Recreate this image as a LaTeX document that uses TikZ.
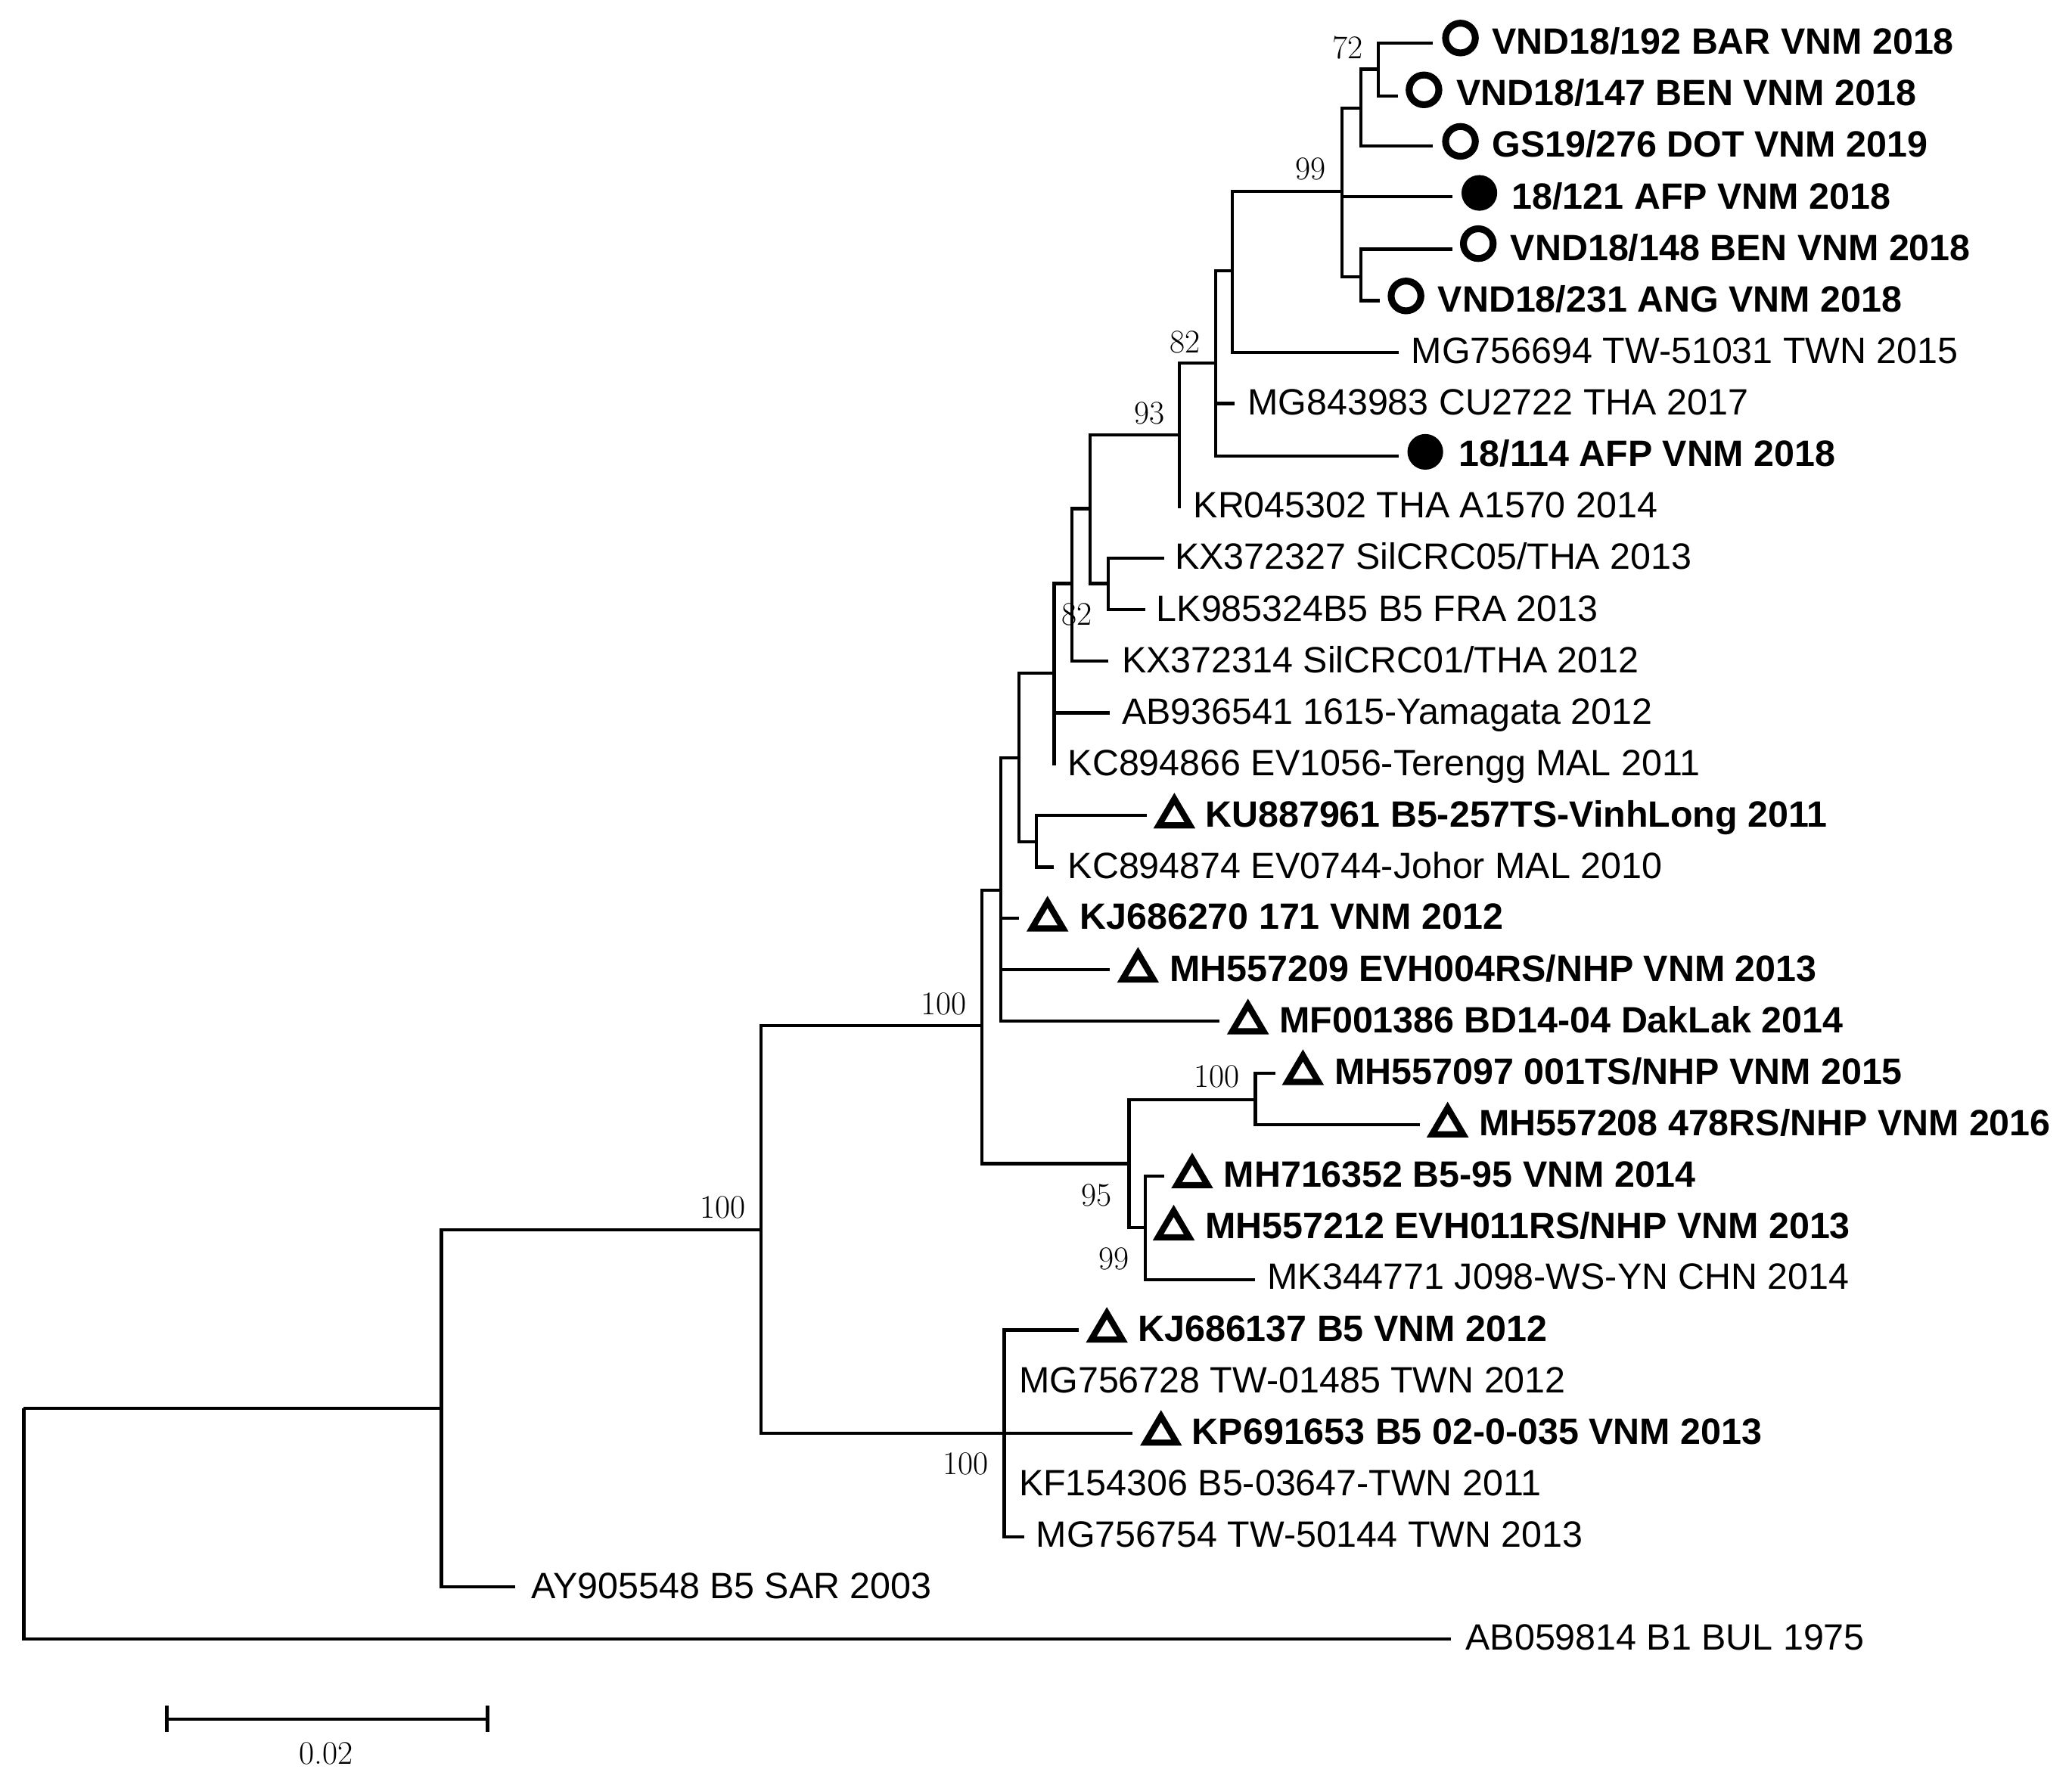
\documentclass[tikz,border=0pt]{standalone}
\usepackage{fontspec}
\usetikzlibrary{shapes.geometric}
\newfontfamily\lblfont{Liberation Sans}
\tikzset{
  x=1pt,y=-1pt,
  branch/.style={draw=black,line width=2.4pt,line join=miter},
  scalebar/.style={draw=black,line width=2.3pt},
  scaletick/.style={draw=black,line width=2.9pt},
  plain/.style={anchor=base west,inner sep=0pt,font=\lblfont\fontsize{27.7}{34}\selectfont},
  strong/.style={plain,font=\lblfont\bfseries\fontsize{27.7}{34}\selectfont},
  support/.style={inner sep=0pt,font=\fontsize{25}{30}\selectfont},
  ring/.style={circle,draw=black,fill=white,line width=5.2pt,inner sep=0pt,minimum size=22.5pt,outer sep=0pt},
  dot/.style={circle,fill=black,inner sep=0pt,minimum size=27pt,outer sep=0pt},
  tri/.style={isosceles triangle,isosceles triangle apex angle=61,shape border rotate=90,draw=black,fill=white,line width=4.7pt,line join=miter,inner sep=0pt,outer sep=0pt,minimum height=20pt,anchor=lower side}
}
\begin{document}
\begin{tikzpicture}
\useasboundingbox (0,0) rectangle (1568,1353);
\fill[white] (0,0) rectangle (1568,1353);
% internal vertices of the tree
\coordinate (root) at (18,1066);
\coordinate (A) at (334,1066);
\coordinate (B) at (576,930.6);
\coordinate (C) at (743.2,776.4);
\coordinate (D) at (760,1084.7);
\coordinate (E) at (757.2,673.7);
\coordinate (F) at (854.4,880.7);
\coordinate (G) at (771.3,573.7);
\coordinate (H) at (797.7,509.3);
\coordinate (I) at (784.2,637);
\coordinate (J) at (811.2,441.6);
\coordinate (K) at (824.7,385);
\coordinate (L) at (892.6,329);
\coordinate (M) at (838.7,441.6);
\coordinate (N) at (919.8,274.8);
\coordinate (O) at (932.4,205);
\coordinate (P) at (1015.7,145);
\coordinate (Q) at (1030,81.8);
\coordinate (R) at (1030,209.6);
\coordinate (S) at (1043,52.4);
\coordinate (T) at (950,832.2);
\coordinate (U) at (866.8,929.3);
% branch ends
\coordinate (e0) at (1084,32.5);
\coordinate (e1) at (1058,72.8);
\coordinate (e2) at (1084,110.4);
\coordinate (e3) at (1099.4,149);
\coordinate (e4) at (1099,188.6);
\coordinate (e5) at (1044,227.5);
\coordinate (e6) at (1058.7,266.6);
\coordinate (e7) at (934,305.4);
\coordinate (e8) at (1058.7,345);
\coordinate (e9) at (892.6,384.7);
\coordinate (e10) at (880.9,422.4);
\coordinate (e11) at (866.8,461.3);
\coordinate (e12) at (838.7,500.4);
\coordinate (e13) at (839.8,539.5);
\coordinate (e14) at (797.7,579.6);
\coordinate (e15) at (868,617.2);
\coordinate (e16) at (797.7,656.3);
\coordinate (e17) at (771.3,695.1);
\coordinate (e18) at (840,734);
\coordinate (e19) at (923,773);
\coordinate (e20) at (965,812.2);
\coordinate (e21) at (1074.7,851.3);
\coordinate (e22) at (881,890.2);
\coordinate (e24) at (950,968.4);
\coordinate (e25) at (816.2,1006.7);
\coordinate (e27) at (856.7,1084.7);
\coordinate (e29) at (775.2,1163.2);
\coordinate (e30) at (390,1201);
\coordinate (e31) at (1098,1240.5);
% branches
\draw[branch] (root) |- (A);
\draw[branch] (root) |- (e31);
\draw[branch] (A) |- (B);
\draw[branch] (A) |- (e30);
\draw[branch] (B) |- (C);
\draw[branch] (B) |- (D);
\draw[branch] (D) |- (e25);
\draw[branch] (D) -- (e27);
\draw[branch] (D) |- (e29);
\draw[branch] (C) |- (E);
\draw[branch] (C) |- (F);
\draw[branch] (E) |- (G);
\draw[branch] (E) |- (e17);
\draw[branch] (E) |- (e18);
\draw[branch] (E) |- (e19);
\draw[branch] (G) |- (H);
\draw[branch] (G) |- (I);
\draw[branch] (I) |- (e15);
\draw[branch] (I) |- (e16);
\draw[branch] (H) |- (J);
\draw[branch] (H) |- (e13);
\draw[branch] (H) |- (e14);
\draw[branch] (J) |- (K);
\draw[branch] (J) |- (e12);
\draw[branch] (K) |- (L);
\draw[branch] (K) |- (M);
\draw[branch] (M) |- (e10);
\draw[branch] (M) |- (e11);
\draw[branch] (L) |- (N);
\draw[branch] (L) |- (e9);
\draw[branch] (N) |- (O);
\draw[branch] (N) |- (e7);
\draw[branch] (N) |- (e8);
\draw[branch] (O) |- (P);
\draw[branch] (O) |- (e6);
\draw[branch] (P) |- (Q);
\draw[branch] (P) |- (e3);
\draw[branch] (P) |- (R);
\draw[branch] (Q) |- (S);
\draw[branch] (Q) |- (e2);
\draw[branch] (S) |- (e0);
\draw[branch] (S) |- (e1);
\draw[branch] (R) |- (e4);
\draw[branch] (R) |- (e5);
\draw[branch] (F) |- (T);
\draw[branch] (F) |- (U);
\draw[branch] (T) |- (e20);
\draw[branch] (T) |- (e21);
\draw[branch] (U) |- (e22);
\draw[branch] (U) |- (e24);
% markers
\node[ring] (m0) at (1105.2,28.8) {};
\node[ring] (m1) at (1077.6,68) {};
\node[ring] (m2) at (1105.2,107) {};
\node[dot]  (m3) at (1119.5,146) {};
\node[ring] (m4) at (1118.7,184.4) {};
\node[ring] (m5) at (1064,224) {};
\node[dot]  (m8) at (1078.6,342) {};
\node[tri] (m15) at (888.7,624.7) {};
\node[tri] (m17) at (792.7,702.7) {};
\node[tri] (m18) at (861.2,741.4) {};
\node[tri] (m19) at (944.4,780.5) {};
\node[tri] (m20) at (986,818.9) {};
\node[tri] (m21) at (1095.5,858.5) {};
\node[tri] (m22) at (902.2,897.1) {};
\node[tri] (m23) at (888.2,936.5) {};
\node[tri] (m25) at (837.6,1013.9) {};
\node[tri] (m27) at (878.6,1091.9) {};
% labels
\node[strong] (t0) at (1129,41) {VND18/192 BAR VNM 2018};
\node[strong] (t1) at (1102,80) {VND18/147 BEN VNM 2018};
\node[strong] (t2) at (1129,119) {GS19/276 DOT VNM 2019};
\node[strong] (t3) at (1144,158) {18/121 AFP VNM 2018};
\node[strong] (t4) at (1143,197) {VND18/148 BEN VNM 2018};
\node[strong] (t5) at (1088,236) {VND18/231 ANG VNM 2018};
\node[plain] (t6) at (1068,275) {MG756694 TW-51031 TWN 2015};
\node[plain] (t7) at (944,314) {MG843983 CU2722 THA 2017};
\node[strong] (t8) at (1104,353) {18/114 AFP VNM 2018};
\node[plain] (t9) at (903,392) {KR045302 THA A1570 2014};
\node[plain] (t10) at (889,431) {KX372327 SilCRC05/THA 2013};
\node[plain] (t11) at (875,470) {LK985324B5 B5 FRA 2013};
\node[plain] (t12) at (849,509) {KX372314 SilCRC01/THA 2012};
\node[plain] (t13) at (849,548) {AB936541 1615-Yamagata 2012};
\node[plain] (t14) at (808,587) {KC894866 EV1056-Terengg MAL 2011};
\node[strong] (t15) at (912,626) {KU887961 B5-257TS-VinhLong 2011};
\node[plain] (t16) at (808,665) {KC894874 EV0744-Johor MAL 2010};
\node[strong] (t17) at (817,703.5) {KJ686270 171 VNM 2012};
\node[strong] (t18) at (885,742.5) {MH557209 EVH004RS/NHP VNM 2013};
\node[strong] (t19) at (968,781.5) {MF001386 BD14-04 DakLak 2014};
\node[strong] (t20) at (1010,820.5) {MH557097 001TS/NHP VNM 2015};
\node[strong] (t21) at (1119,859.5) {MH557208 478RS/NHP VNM 2016};
\node[strong] (t22) at (926,898.5) {MH716352 B5-95 VNM 2014};
\node[strong] (t23) at (912,937.5) {MH557212 EVH011RS/NHP VNM 2013};
\node[plain] (t24) at (959,976) {MK344771 J098-WS-YN CHN 2014};
\node[strong] (t25) at (861,1015) {KJ686137 B5 VNM 2012};
\node[plain] (t26) at (771,1054) {MG756728 TW-01485 TWN 2012};
\node[strong] (t27) at (902,1093) {KP691653 B5 02-0-035 VNM 2013};
\node[plain] (t28) at (771,1132) {KF154306 B5-03647-TWN 2011};
\node[plain] (t29) at (784,1171) {MG756754 TW-50144 TWN 2013};
\node[plain] (t30) at (402,1210) {AY905548 B5 SAR 2003};
\node[plain] (t31) at (1109,1249) {AB059814 B1 BUL 1975};
% support values
\node[support] (s1) at (1020,36) {72};
\node[support] (s2) at (992,128) {99};
\node[support] (s3) at (897,259) {82};
\node[support] (s4) at (870,313) {93};
\node[support] (s5) at (815,465) {82};
\node[support] (s6) at (714,760) {100};
\node[support] (s7) at (547,914) {100};
\node[support] (s8) at (921,815) {100};
\node[support] (s9) at (830,905) {95};
\node[support] (s10) at (843,953) {99};
\node[support] (s11) at (731,1108) {100};
% scale bar
\coordinate (bl) at (126.2,1301);
\coordinate (br) at (369,1301);
\coordinate (blt) at (126.2,1291);
\coordinate (blb) at (126.2,1311);
\coordinate (brt) at (369,1291);
\coordinate (brb) at (369,1311);
\draw[scalebar] (bl) -- (br);
\draw[scaletick] (blt) -- (blb);
\draw[scaletick] (brt) -- (brb);
\node[support] (sv) at (246.5,1327) {0.02};
\end{tikzpicture}
\end{document}
